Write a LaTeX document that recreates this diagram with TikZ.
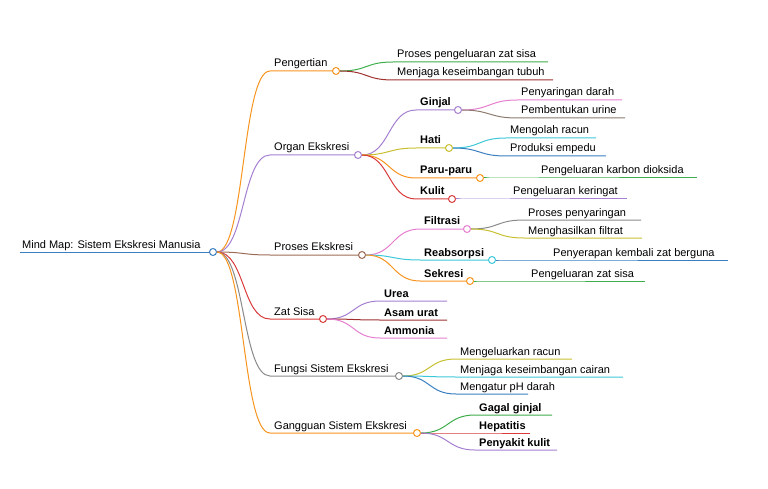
\documentclass[tikz,border=0pt]{standalone}
\usepackage{fontspec}
\setmainfont{Liberation Sans}
\usepackage{tikz}
\usetikzlibrary{calc}

\definecolor{mmorange}{HTML}{F7941D}
\definecolor{mmpurple}{HTML}{A57FD0}
\definecolor{mmbrown}{HTML}{9C6B55}
\definecolor{mmred}{HTML}{D93B3B}
\definecolor{mmgray}{HTML}{8A8A8A}
\definecolor{mmgreen}{HTML}{3DAE4A}
\definecolor{mmdred}{HTML}{A03030}
\definecolor{mmpink}{HTML}{E67FD0}
\definecolor{mmcyan}{HTML}{3CC8D8}
\definecolor{mmblue}{HTML}{3A7FC0}
\definecolor{mmolive}{HTML}{C8C030}
\definecolor{mmtaupe}{HTML}{8C7B6E}

\tikzset{
  lbl/.style={anchor=base west, inner sep=0pt, font=\fontsize{11}{13}\selectfont},
  dot/.style={circle, draw, fill=white, line width=1pt, inner sep=0pt, minimum size=7pt},
  link/.style={line width=1pt}
}

% #1 id, #2 parent, #3 x0, #4 xend, #5 y, #6 colour, #7 text
\newcommand\mmbranch[7]{%
  \coordinate (#1s) at (#3,#5);
  \draw[link,#6] (#2) .. controls +(28,0) and +(-28,0) .. (#1s) -- (#4,#5);
  \node[lbl] (#1) at ($(#1s)+(4,-4)$) {#7};
  \node[dot,draw=#6] (#1d) at (#4,#5) {};
}
\newcommand\mmleaf[7]{%
  \coordinate (#1s) at (#3,#5);
  \draw[link,#6] (#2) .. controls +(28,0) and +(-28,0) .. (#1s) -- (#4,#5);
  \node[lbl] (#1) at ($(#1s)+(4,-4)$) {#7};
}

\begin{document}
\begin{tikzpicture}[x=1pt,y=-1pt]
  \useasboundingbox (0,0) rectangle (768,489);
  % root
  \coordinate (roots) at (20,252);
  \draw[link,mmblue] (roots) -- (213,252);
  \node[lbl] (root) at (22,248) {Mind Map: Sistem Ekskresi Manusia};
  \node[dot,draw=mmblue] (rootd) at (213,252) {};

  % level one
  \mmbranch{pg}{rootd.east}{270}{336}{71}{mmorange}{Pengertian}
  \mmbranch{og}{rootd.east}{270}{358}{155}{mmpurple}{Organ Ekskresi}
  \mmbranch{pr}{rootd.east}{270}{362}{255}{mmbrown}{Proses Ekskresi}
  \mmbranch{zs}{rootd.east}{270}{323}{319}{mmred}{Zat Sisa}
  \mmbranch{fs}{rootd.east}{270}{399}{376}{mmgray}{Fungsi Sistem Ekskresi}
  \mmbranch{gs}{rootd.east}{270}{417}{433}{mmorange}{Gangguan Sistem Ekskresi}

  % Pengertian
  \mmleaf{pga}{pgd.east}{393}{548}{62}{mmgreen}{Proses pengeluaran zat sisa}
  \mmleaf{pgb}{pgd.east}{393}{553}{80}{mmdred}{Menjaga keseimbangan tubuh}

  % Organ Ekskresi
  \mmbranch{gj}{ogd.east}{416}{458}{110}{mmpurple}{\textbf{Ginjal}}
  \mmbranch{ht}{ogd.east}{416}{449}{148}{mmolive}{\textbf{Hati}}
  \mmbranch{pp}{ogd.east}{416}{480}{178}{mmorange}{\textbf{Paru-paru}}
  \mmbranch{kl}{ogd.east}{416}{452}{199}{mmred}{\textbf{Kulit}}
  \mmleaf{gja}{gjd.east}{517}{622}{100}{mmpink}{Penyaringan darah}
  \mmleaf{gjb}{gjd.east}{517}{625}{118}{mmtaupe}{Pembentukan urine}
  \mmleaf{hta}{htd.east}{506}{596}{138}{mmcyan}{Mengolah racun}
  \mmleaf{htb}{htd.east}{506}{606}{156}{mmblue}{Produksi empedu}
  \mmleaf{ppa}{ppd.east}{537}{697}{178}{mmgreen}{Pengeluaran karbon dioksida}
  \mmleaf{kla}{kld.east}{509}{627}{199}{mmpurple}{Pengeluaran keringat}

  % Proses Ekskresi
  \mmbranch{fl}{prd.east}{420}{467}{229}{mmpink}{\textbf{Filtrasi}}
  \mmbranch{rb}{prd.east}{420}{492}{260}{mmcyan}{\textbf{Reabsorpsi}}
  \mmbranch{sk}{prd.east}{420}{470}{281}{mmorange}{\textbf{Sekresi}}
  \mmleaf{fla}{fld.east}{524}{641}{220}{mmgray}{Proses penyaringan}
  \mmleaf{flb}{fld.east}{524}{642}{238}{mmolive}{Menghasilkan filtrat}
  \mmleaf{rba}{rbd.east}{549}{728}{260}{mmblue}{Penyerapan kembali zat berguna}
  \mmleaf{ska}{skd.east}{527}{645}{281}{mmgreen}{Pengeluaran zat sisa}

  % Zat Sisa
  \mmleaf{zsa}{zsd.east}{380}{447}{301}{mmpurple}{\textbf{Urea}}
  \mmleaf{zsb}{zsd.east}{380}{447}{320}{mmdred}{\textbf{Asam urat}}
  \mmleaf{zsc}{zsd.east}{380}{447}{338}{mmpink}{\textbf{Ammonia}}

  % Fungsi Sistem Ekskresi
  \mmleaf{fsa}{fsd.east}{456}{572}{359}{mmolive}{Mengeluarkan racun}
  \mmleaf{fsb}{fsd.east}{456}{623}{377}{mmcyan}{Menjaga keseimbangan cairan}
  \mmleaf{fsc}{fsd.east}{456}{528}{394}{mmblue}{Mengatur pH darah}

  % Gangguan Sistem Ekskresi
  \mmleaf{gsa}{gsd.east}{475}{552}{415}{mmgreen}{\textbf{Gagal ginjal}}
  \mmleaf{gsb}{gsd.east}{475}{530}{433}{mmred}{\textbf{Hepatitis}}
  \mmleaf{gsc}{gsd.east}{475}{557}{450}{mmpurple}{\textbf{Penyakit kulit}}
\end{tikzpicture}
\end{document}
